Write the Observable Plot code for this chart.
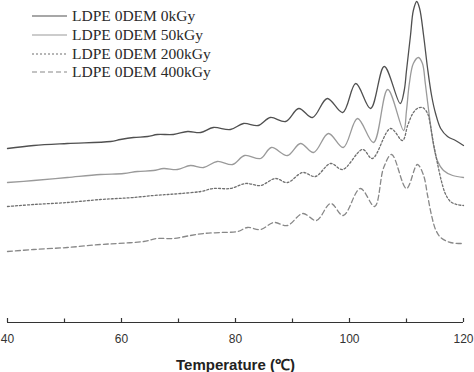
<!DOCTYPE html>
<html>
<head>
<meta charset="utf-8">
<script src="https://cdn.jsdelivr.net/npm/d3@7"></script>
<script src="https://cdn.jsdelivr.net/npm/@observablehq/plot@0.6"></script>
<style>
  html, body { margin: 0; padding: 0; background: #fff; }
  #wrap { position: relative; width: 474px; height: 372px; overflow: hidden; }
  #legend { position: absolute; left: 32px; top: 7px; font-family: "Liberation Serif", "Times New Roman", serif; font-size: 15.5px; color: #2a2a2a; }
  #legend .row { display: flex; align-items: center; height: 18.7px; white-space: nowrap; }
  #legend svg { width: 40px; height: 10px; flex: none; }
</style>
</head>
<body>
<div id="wrap"><div id="chart"></div><div id="legend"></div></div>
<script>
// Series names (legend labels)
const seriesNames = ["LDPE 0DEM 0kGy", "LDPE 0DEM 50kGy", "LDPE 0DEM 200kGy", "LDPE 0DEM 400kGy"];

// Temperature (°C) and heat flow (arbitrary units, curves offset)
const temp0 = [40.0,44.6,50.5,58.1,59.8,62.1,64.6,66.3,69.1,71.6,73.9,76.1,79.1,81.4,84.0,86.1,88.8,91.1,93.5,96.1,98.8,101.1,103.7,106.1,108.9,109.6,110.0,110.7,111.2,111.8,112.3,113.0,113.7,114.4,115.1,116.0,117.2,118.6,120.0];
const flow0 = [17.4,17.7,17.9,18.1,18.3,18.5,18.6,18.8,18.8,19.1,19.0,19.5,19.3,19.9,19.7,20.5,20.1,21.4,20.5,22.4,21.0,23.9,21.4,25.6,21.9,23.2,25.2,28.7,31.2,32.1,31.4,28.7,25.4,22.7,20.9,19.4,18.6,18.2,17.7];

const temp50 = [40.0,44.6,50.5,56.3,60.4,62.8,65.6,67.4,69.8,72.1,74.4,76.8,79.5,81.6,84.4,86.3,89.1,91.4,93.7,96.3,98.9,101.4,104.2,106.7,109.5,110.0,110.5,111.2,112.1,112.8,113.3,114.0,114.7,115.4,116.5,118.1,120.0];
const flow50 = [14.0,14.2,14.5,14.8,14.9,15.1,15.2,15.4,15.3,15.7,15.5,16.1,15.8,16.7,16.4,17.5,16.7,17.9,17.0,18.9,17.5,20.4,18.0,23.3,19.2,21.2,23.9,25.9,26.5,25.9,23.9,20.7,17.9,16.2,15.2,14.7,14.5];

const temp200 = [40.0,44.6,50.5,56.3,59.3,62.1,65.6,68.1,70.4,73.9,76.1,79.1,81.8,84.4,87.0,89.1,91.8,94.0,96.7,98.8,102.3,104.0,107.2,109.3,110.2,111.1,111.9,112.8,113.7,114.2,114.7,115.4,116.1,116.8,117.7,118.8,120.0];
const flow200 = [11.6,11.8,12.0,12.3,12.4,12.5,12.7,12.8,12.9,13.1,13.4,13.4,13.9,13.7,14.4,14.0,15.0,14.6,15.9,15.3,17.3,16.4,19.4,18.2,19.7,20.9,21.4,21.5,20.9,19.7,18.0,16.0,14.2,12.9,12.1,11.8,11.7];

const temp400 = [40.0,44.6,50.5,56.3,59.3,63.9,66.3,69.1,72.1,74.4,77.4,80.4,82.1,84.4,86.7,89.1,91.8,94.2,96.7,98.9,101.9,104.4,106.0,107.4,110.0,111.9,113.0,113.7,114.4,115.1,116.0,117.7,120.0];
const flow400 = [7.1,7.3,7.5,7.8,7.9,8.1,8.4,8.4,8.7,8.9,9.0,9.1,9.5,9.3,10.0,9.7,10.9,10.2,11.9,10.7,13.4,11.6,15.5,16.8,13.4,15.8,14.7,12.7,10.7,9.3,8.5,8.0,7.9];

// Axis ticks
const majorTicks = [40, 60, 80, 100, 120];
const minorTicks = [50, 70, 90, 110];
const xTitle = "Temperature (℃)";

// Styles per series
const strokes = ["#505050", "#9a9a9a", "#6f6f6f", "#888"];
const dashes = [null, null, "2,2", "5,3"];

const temps = [temp0, temp50, temp200, temp400];
const flows = [flow0, flow50, flow200, flow400];
const seriesData = temps.map((t, i) => t.map((x, j) => ({T: x, v: flows[i][j], s: seriesNames[i]})));

const lineMarks = seriesData.map((d, i) => Plot.line(d, {
  x: "T", y: "v", curve: "catmull-rom",
  stroke: strokes[i], strokeWidth: 1.3,
  strokeDasharray: dashes[i] || undefined
}));

const chart = Plot.plot({
  width: 474, height: 372,
  marginLeft: 7, marginRight: 11, marginTop: 1, marginBottom: 50,
  style: {fontFamily: "'Liberation Sans', Arial, sans-serif", background: "#fff"},
  x: {domain: [40, 120]},
  y: {domain: [0, 32.1], axis: null},
  marks: [
    ...lineMarks,
    Plot.ruleY([0], {stroke: "#333", strokeWidth: 1.2}),
    Plot.ruleX(majorTicks, {y1: 0, y2: 0.4, stroke: "#333", strokeWidth: 1.2}),
    Plot.ruleX(minorTicks, {y1: 0, y2: 0.35, stroke: "#333", strokeWidth: 1.2}),
    Plot.axisX({ticks: majorTicks, tickSize: 0, tickPadding: 12, fontSize: 12, fill: "#333", label: null, tickFormat: d => String(d)}),
    Plot.text([xTitle], {frameAnchor: "bottom", lineAnchor: "middle", dy: 43, fontSize: 15, fontWeight: "bold", fill: "#222"})
  ]
});
document.getElementById("chart").appendChild(chart);

// Legend
const legend = document.getElementById("legend");
seriesNames.forEach((name, i) => {
  const row = document.createElement("div");
  row.className = "row";
  row.innerHTML = `<svg viewBox="0 0 40 10"><line x1="0" x2="35" y1="5" y2="5" stroke="${strokes[i]}" stroke-width="1.2" ${dashes[i] ? `stroke-dasharray="${dashes[i]}"` : ""}/></svg><span>${name}</span>`;
  legend.appendChild(row);
});
</script>
</body>
</html>
